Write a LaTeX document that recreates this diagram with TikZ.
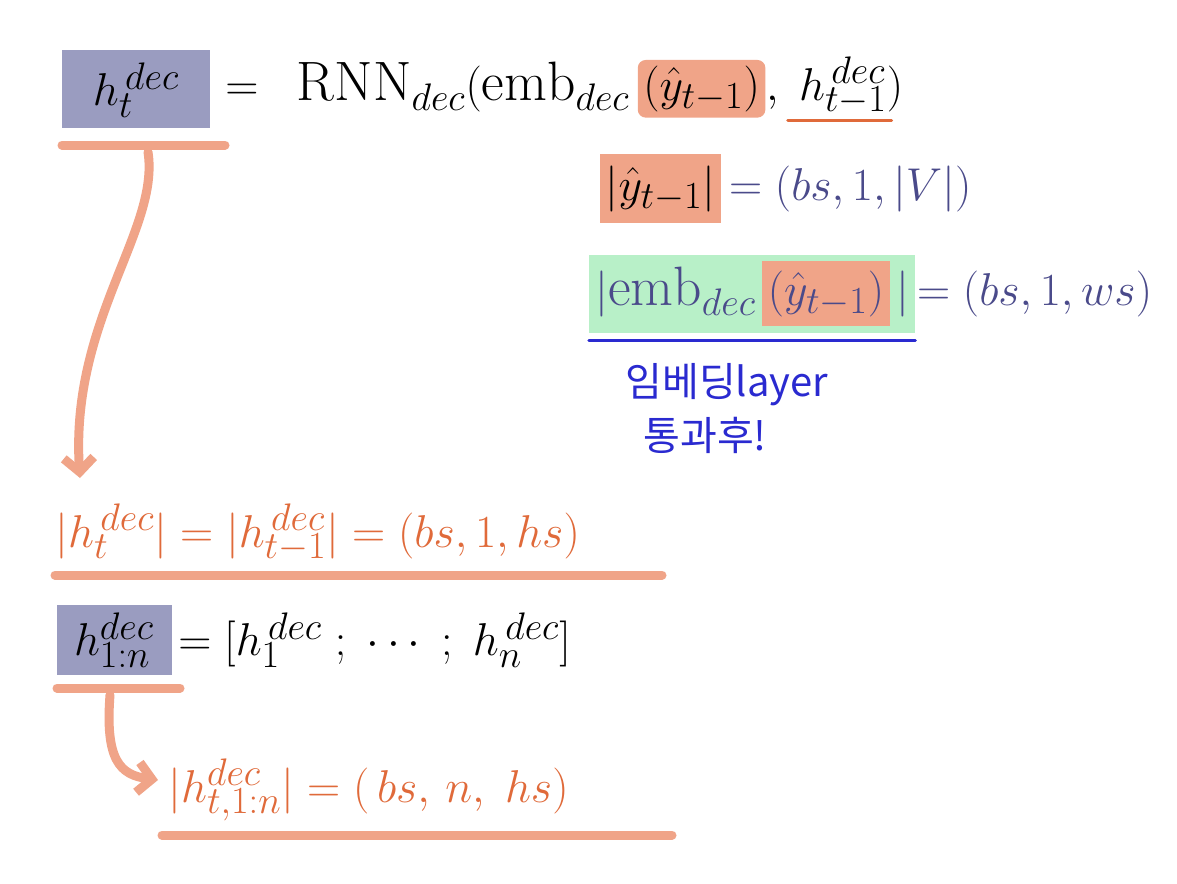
\documentclass[tikz,border=0pt]{standalone}
\usepackage{fontspec}
\newfontfamily\kr{Noto Sans CJK KR}
\usetikzlibrary{arrows.meta,fit,backgrounds}
\definecolor{boxblue}{HTML}{9A9CC0}
\definecolor{salmon}{HTML}{F0A488}
\definecolor{ortext}{HTML}{E06A3A}
\definecolor{navy}{HTML}{4A4A8A}
\definecolor{mint}{HTML}{B8F0C8}
\definecolor{pen}{HTML}{2A2AD0}
\tikzset{
  big/.style={font=\fontsize{30}{36}\selectfont, inner sep=0pt, scale=1.85},
  hl/.style={fill=salmon, inner sep=3pt},
  uline/.style={salmon, line width=9pt, line cap=round},
  conn/.style={salmon, line width=9pt, line cap=round, -{Straight Barb[length=14pt,width=30pt]}},
}
\begin{document}
\begin{tikzpicture}[x=1pt,y=-1pt]
\useasboundingbox (0,0) rectangle (1177,883);
\begin{scope}[on background layer]
\fill[white] (0,0) rectangle (1177,883);
\end{scope}
% top
\fill[boxblue] (62,50) rectangle (210,128);
\node[big, anchor=center] (h) at (136,90) {$h_t^{\,dec}$};
\draw[uline] (62,145) -- (225,145);
\node[big, anchor=base west] (r1) at (225,100) {$=\;\; \mathrm{RNN}_{dec}(\mathrm{emb}_{dec}$};
\node[big, anchor=base west, hl, rounded corners=8pt, xshift=4pt] (r2) at (r1.base east) {$(\hat{y}_{t-1})$};
\node[big, anchor=base west] (r3) at (r2.base east) {$,\; h_{t-1}^{\,dec})$};
\draw[ortext, line width=3pt, line cap=round] ([xshift=22pt,yshift=-6pt]r3.south west) -- ([xshift=-12pt,yshift=-6pt]r3.south east);
% y hat size
\node[big, anchor=base west, hl, inner ysep=6pt] (ys1) at (600,200) {$|\hat{y}_{t-1}|$};
\node[big, anchor=base west, text=navy, xshift=4pt] (ys2) at (ys1.base east) {$= (bs, 1, |V|)$};
% emb size
\node[big, anchor=base west, text=navy] (e1) at (595,305) {$|\mathrm{emb}_{dec}$};
\node[big, anchor=base west, hl, inner ysep=5pt, xshift=3pt] (e2) at (e1.base east) {\color{navy}$(\hat{y}_{t-1})$};
\node[big, anchor=base west, text=navy, xshift=3pt] (e3) at (e2.base east) {$|$};
\node[big, anchor=base west, text=navy, xshift=4pt] (e4) at (e3.base east) {$= (bs, 1, ws)$};
\begin{scope}[on background layer]
\node[fit=(e1)(e2)(e3), fill=mint, inner sep=6pt] (g) {};
\end{scope}
\draw[pen, line width=3pt, line cap=round] ([yshift=-8pt]g.south west) -- ([yshift=-8pt]g.south east);
\node[font=\kr\fontsize{40}{44}\selectfont, text=pen, anchor=west] (k1) at (622,385) {임베딩layer};
\node[font=\kr\fontsize{40}{44}\selectfont, text=pen, anchor=west] (k2) at (640,435) {통과후!};
% arrow 1
\coordinate (a1) at (148,152);
\coordinate (a2) at (80,478);
\draw[conn] (a1) .. controls (160,230) and (70,320) .. (a2);
% middle orange
\node[big, anchor=west, text=ortext] (eq1) at (55,533) {$|h_t^{\,dec}| = |h_{t-1}^{\,dec}| = (bs, 1, hs)$};
\draw[uline] (55,575) -- (662,575);
% h 1:n
\fill[boxblue] (57,605) rectangle (172,675);
\node[big] (hn) at (114,640) {$h^{dec}_{1:n}$};
\node[big, anchor=west] (cat) at (178,640) {$= [h_1^{\,dec}\;;\;\cdots\;;\;h_n^{\,dec}]$};
\draw[uline] (57,688) -- (180,688);
\coordinate (b1) at (110,695);
\coordinate (b2) at (158,780);
\draw[conn] (b1) .. controls (105,760) and (120,775) .. (b2);
\node[big, anchor=west, text=ortext] (eq2) at (168,790) {$|h^{dec}_{t,1:n}| = (\,bs,\, n,\; hs)$};
\draw[uline] (162,835) -- (672,835);
\end{tikzpicture}
\end{document}
